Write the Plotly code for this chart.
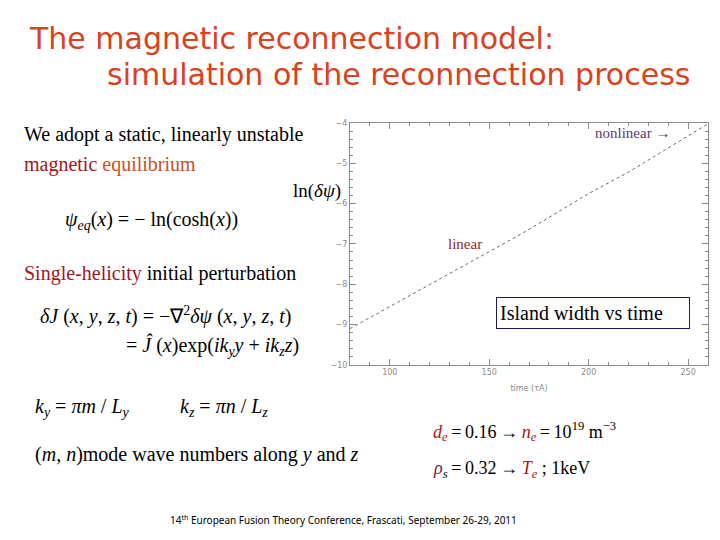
import plotly.graph_objects as go

# island width growth
time_ta = [80, 100, 120, 140, 160, 170, 190, 200, 220, 240, 260]
ln_dpsi = [-9.10, -8.56, -8.01, -7.47, -6.92, -6.64, -6.05, -5.75, -5.22, -4.62, -4.02]

x_ticks = [100, 150, 200, 250]
y_ticks = [-4, -5, -6, -7, -8, -9, -10]

W, H = 720, 540
TITLE_RED = '#d9421c'
DARK_RED = '#a3161c'
ORANGE = '#c8501e'
SERIF = 'Liberation Serif'
TS = '\u2009'  # thin space for tight formulas


def px(x, y):
    # slide pixel position -> paper coords
    return x / W, 1 - y / H


fig = go.Figure()

fig.add_trace(go.Scatter(
    x=time_ta, y=ln_dpsi, mode='lines',
    line=dict(color='#6a6a6a', width=1, dash='dot'),
    showlegend=False, hoverinfo='skip'
))

axis_common = dict(
    showline=True, linecolor='#8a8a8a', linewidth=1, mirror='ticks',
    ticks='inside', ticklen=6, tickcolor='#8a8a8a', showgrid=False,
    zeroline=False, tickfont=dict(family='DejaVu Sans', size=8, color='#8a8a8a'),
)

fig.update_layout(
    width=W, height=H,
    margin=dict(l=0, r=0, t=0, b=0),
    paper_bgcolor='white', plot_bgcolor='white',
    xaxis=dict(range=[80, 260], domain=[350 / W, 708 / W], tickvals=x_ticks,
               minor=dict(dtick=10, ticks='inside', ticklen=3, tickcolor='#8a8a8a'),
               title=dict(text='time (τA)', font=dict(family='DejaVu Sans', size=8, color='#8a8a8a'),
                          standoff=8),
               **axis_common),
    yaxis=dict(range=[-10, -4], domain=[1 - 367 / H, 1 - 121 / H], tickvals=y_ticks,
               minor=dict(dtick=0.2, ticks='inside', ticklen=3, tickcolor='#8a8a8a'),
               **axis_common),
)

anns = []


def txt(x, y, text, size, color='black', family=SERIF, anchor='left'):
    ax, ay = px(x, y)
    anns.append(dict(x=ax, y=ay, xref='paper', yref='paper', text=text, showarrow=False,
                     xanchor=anchor, yanchor='middle', borderpad=0,
                     font=dict(family=family, size=size, color=color)))


# title
txt(28, 35, 'The magnetic reconnection model:', 30, TITLE_RED, 'DejaVu Sans')
txt(106, 72, 'simulation of the reconnection process', 30, TITLE_RED, 'DejaVu Sans')

# left column text
txt(23, 133, 'We adopt a static, linearly unstable', 20)
txt(23, 163, f'<span style="color:{DARK_RED}">magnetic</span> '
             f'<span style="color:{ORANGE}">equilibrium</span>', 20)
txt(64, 220, '<i>ψ</i><sub><i>eq</i></sub>(<i>x</i>) = − ln(cosh(<i>x</i>))', 20)
txt(23, 274, f'<span style="color:{DARK_RED}">Single-helicity</span> initial perturbation', 20)
txt(39, 317, '<i>δJ</i> (<i>x</i>, <i>y</i>, <i>z</i>, <i>t</i>) = −∇<sup>2</sup><i>δψ</i> '
             '(<i>x</i>, <i>y</i>, <i>z</i>, <i>t</i>)', 20)
txt(300, 348, '= <i>Ĵ</i> (<i>x</i>)exp(<i>ik</i><sub><i>y</i></sub><i>y</i> + '
              '<i>ik</i><sub><i>z</i></sub><i>z</i>)', 20, anchor='right')
txt(34, 410, '<i>k</i><sub><i>y</i></sub> = <i>πm</i> / <i>L</i><sub><i>y</i></sub>', 20)
txt(179, 410, '<i>k</i><sub><i>z</i></sub> = <i>πn</i> / <i>L</i><sub><i>z</i></sub>', 20)
txt(34, 458, '(<i>m</i>, <i>n</i>)mode wave numbers along <i>y</i> and <i>z</i>', 20)

# right column parameters
txt(432, 435, f'<i style="color:{DARK_RED}">d</i><sub><i style="color:{DARK_RED}">e</i></sub>{TS}={TS}0.16{TS}→{TS}'
              f'<i style="color:{DARK_RED}">n</i><sub><i style="color:{DARK_RED}">e</i></sub>{TS}={TS}'
              '10<sup>19</sup> m<sup>−3</sup>', 18)
txt(432, 473, f'<i style="color:#6a1e3e">ρ</i><sub><i>s</i></sub>{TS}={TS}0.32{TS}→{TS}'
              f'<i style="color:{DARK_RED}">T</i><sub><i style="color:{DARK_RED}">e</i></sub> ; 1keV', 18)

# y label beside the chart
txt(292, 190, 'ln(<i>δψ</i>)', 19)

# footer
txt(343, 525, '14<sup>th</sup> European Fusion Theory Conference, Frascati, September 26-29, 2011',
    10, 'black', 'Noto Sans', anchor='center')

# labels inside the chart, in data coords
anns.append(dict(x=138, y=-7.0, xref='x', yref='y', text='linear', showarrow=False,
                 font=dict(family=SERIF, size=15, color='#8b2a2a')))
anns.append(dict(x=222, y=-4.25, xref='x', yref='y', text='nonlinear →', showarrow=False,
                 font=dict(family=SERIF, size=15, color='#5a3a6a')))
anns.append(dict(x=202, y=-8.72, xref='x', yref='y', text='Island width vs time', showarrow=False,
                 width=186, align='left', height=24,
                 font=dict(family=SERIF, size=20, color='black'),
                 bordercolor='#1a1a6a', borderwidth=1, borderpad=3, bgcolor='white'))

fig.update_layout(annotations=anns)

fig.write_html('out.html', config={'displayModeBar': False},
               post_script="document.body.style.margin='0';")
